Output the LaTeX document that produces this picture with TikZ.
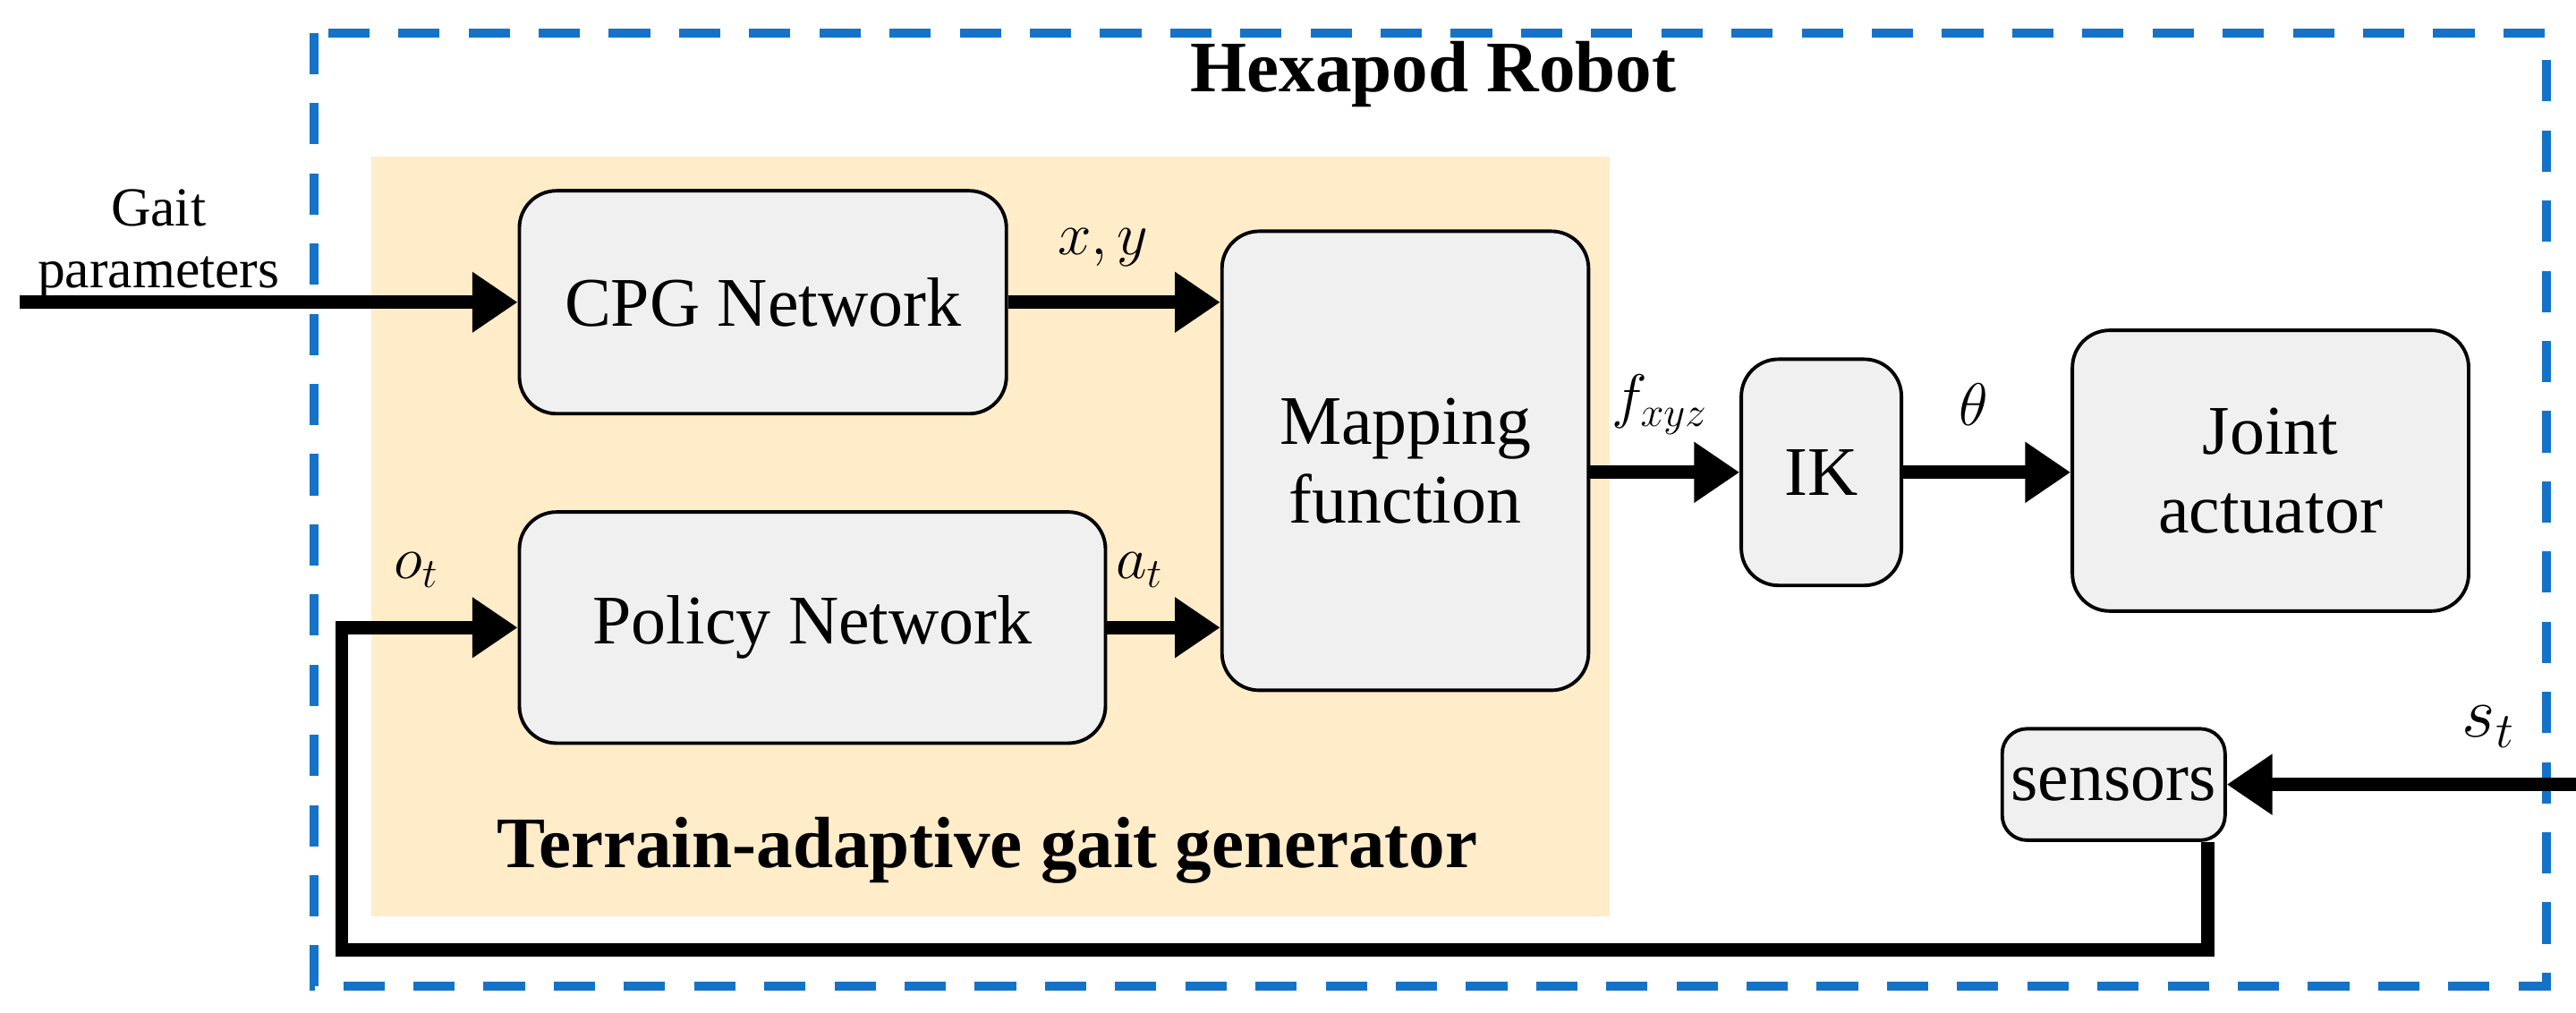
\documentclass[tikz,border=0pt]{standalone}
\usepackage{amsmath}
\usepackage{fontspec}
\setmainfont{Liberation Serif}
\usetikzlibrary{arrows.meta}
\definecolor{frameblue}{RGB}{20,115,200}
\definecolor{genyellow}{RGB}{255,236,200}
\definecolor{boxgray}{RGB}{240,240,240}
\begin{document}
\begin{tikzpicture}[x=0.02cm,y=-0.02cm,
  blk/.style={draw,line width=1.2pt,fill=boxgray,rounded corners=0.45cm,align=center,
    font=\fontsize{24}{27}\selectfont,inner sep=0pt},
  sig/.style={line width=4.6pt,-{Triangle[length=0.55cm,width=0.7cm]}},
  lbl/.style={font=\fontsize{20}{22}\selectfont}]
\useasboundingbox (0,0) rectangle (1560,613);
% frames
\draw[frameblue,line width=3pt,dash pattern=on 0.5cm off 0.35cm] (190,20) rectangle (1542,597);
\fill[genyellow] (225,95) rectangle (975,555);
\node[font=\bfseries\fontsize{25}{27}\selectfont] (title) at (868,45) {Hexapod Robot};
\node[font=\bfseries\fontsize{25}{27}\selectfont] (gen) at (598,515) {Terrain-adaptive gait generator};
% blocks
\node[blk,minimum width=5.9cm,minimum height=2.7cm] (cpg) at (462,183) {CPG Network};
\node[blk,minimum width=7.1cm,minimum height=2.8cm] (pol) at (492,380) {Policy Network};
\node[blk,minimum width=4.44cm,minimum height=5.56cm] (map) at (851,279) {Mapping\\function};
\node[blk,minimum width=1.94cm,minimum height=2.74cm] (ik) at (1103,286) {IK};
\node[blk,minimum width=4.8cm,minimum height=3.4cm] (ja) at (1375,285) {Joint\\actuator};
\node[blk,minimum width=2.7cm,minimum height=1.35cm,rounded corners=0.3cm] (sen) at (1280,475) {sensors};
% inputs
\node[lbl,align=center,font=\fontsize{19}{21}\selectfont] (gp) at (96,148) {Gait\\parameters};
\coordinate (gin) at (12,183);
\coordinate (sin) at (1560,475);
\draw[sig] (gin) -- (cpg.west |- gin);
\draw[sig] (cpg.east) -- (map.west |- cpg.east);
\draw[sig] (pol.east) -- (map.west |- pol.east);
\draw[sig] (map.east |- ik.west) -- (ik.west);
\draw[sig] (ik.east) -- (ja.west |- ik.east);
\draw[sig] (sin) -- (sen.east);
% feedback loop
\coordinate (fb1) at (1337,575);
\coordinate (fb2) at (207,575);
\coordinate (fb3) at (207,380);
\draw[line width=4.6pt,-{Triangle[length=0.55cm,width=0.7cm]}] (sen.south -| fb1) -- (fb1) -- (fb2) -- (fb3) -- (pol.west);
% labels
\node[lbl] (lxy) at (668,150) {$x,y$};
\node[lbl] (lat) at (690,345) {$a_t$};
\node[lbl] (lf) at (1005,245) {$f_{xyz}$};
\node[lbl] (lth) at (1195,245) {$\theta$};
\node[lbl] (lot) at (252,345) {$o_t$};
\node[font=\fontsize{24}{26}\selectfont] (lst) at (1507,440) {$s_t$};
\end{tikzpicture}
\end{document}
